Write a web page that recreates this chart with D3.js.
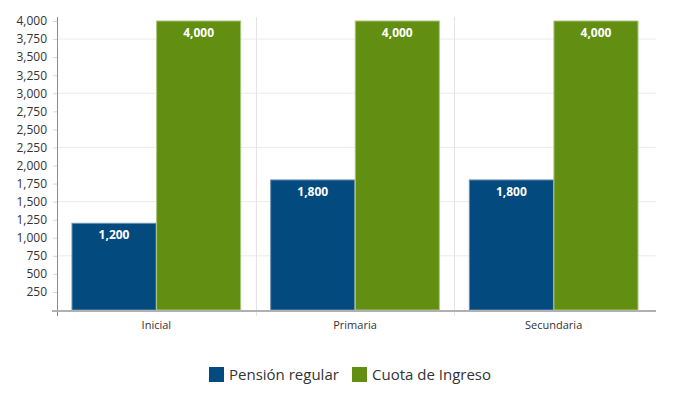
<!DOCTYPE html>
<html>
<head>
<meta charset="utf-8">
<script src="https://cdn.jsdelivr.net/npm/d3@7"></script>
<style>
  body { margin: 0; background: #fff; }
  text { font-family: "Open Sans", sans-serif; }
</style>
</head>
<body>
<div id="chart"></div>
<script>
var categories = ["Inicial", "Primaria", "Secundaria"];
var seriesNames = ["Pensión regular", "Cuota de Ingreso"];
var pension = [1200, 1800, 1800];
var cuota = [4000, 4000, 4000];
var yTicks = [250, 500, 750, 1000, 1250, 1500, 1750, 2000, 2250, 2500, 2750, 3000, 3250, 3500, 3750, 4000];
var gridTicks = [750, 1500, 2250, 3000, 3750];
var colors = ["#034a7e", "#628f12"];
var strokes = ["#6a8fb0", "#a9c77a"];

var margin = {top: 21, right: 44, bottom: 90, left: 57},
    width = 700 - margin.left - margin.right,
    height = 400 - margin.top - margin.bottom;

var svg = d3.select("#chart").append("svg")
    .attr("width", 700)
    .attr("height", 400)
  .append("g")
    .attr("transform", "translate(" + margin.left + "," + margin.top + ")");

var x = d3.scaleBand().domain(categories).range([0, width - 3]).paddingInner(0).paddingOuter(0);
var xs = d3.scaleBand().domain([0, 1]).range([15, x.bandwidth() - 15]).paddingInner(0.006);
var y = d3.scaleLinear().domain([0, 4000]).range([height, 0]);

// horizontal gridlines
svg.selectAll(".hgrid")
  .data(gridTicks)
  .enter().append("line")
    .attr("x1", 0).attr("x2", width)
    .attr("y1", function(d) { return y(d); })
    .attr("y2", function(d) { return y(d); })
    .attr("stroke", "#ebebeb").attr("stroke-width", 1);

// vertical category lines
svg.selectAll(".vgrid")
  .data(categories.slice(1))
  .enter().append("line")
    .attr("x1", function(d) { return Math.round(x(d)) + 0.5; })
    .attr("x2", function(d) { return Math.round(x(d)) + 0.5; })
    .attr("y1", -4).attr("y2", height + 6)
    .attr("stroke", "#e4e4e4");

// y axis
var yAxis = svg.append("g")
    .call(d3.axisLeft(y).tickValues(yTicks).tickFormat(d3.format(",")).tickSize(4).tickPadding(6));
yAxis.select(".domain").remove();
yAxis.selectAll(".tick line").attr("stroke", "#d6d6d6");
yAxis.selectAll("text").attr("fill", "#333").style("font-size", "12px");
svg.append("line")
    .attr("x1", 0.5).attr("x2", 0.5)
    .attr("y1", -4).attr("y2", height + 6)
    .attr("stroke", "#8c8c8c");

// bars
var series = [pension, cuota];
series.forEach(function(vals, si) {
  svg.selectAll(".bar" + si)
    .data(categories)
    .enter().append("rect")
      .attr("x", function(d) { return x(d) + xs(si); })
      .attr("width", xs.bandwidth())
      .attr("y", function(d, i) { return y(vals[i]); })
      .attr("height", function(d, i) { return height - y(vals[i]); })
      .attr("fill", colors[si])
      .attr("stroke", strokes[si])
      .attr("stroke-width", 1);

  svg.selectAll(".lbl" + si)
    .data(categories)
    .enter().append("text")
      .attr("x", function(d) { return x(d) + xs(si) + xs.bandwidth() / 2; })
      .attr("y", function(d, i) { return y(vals[i]) + 16; })
      .attr("text-anchor", "middle")
      .attr("fill", "#fff")
      .style("font-size", "12px")
      .style("font-weight", "bold")
      .text(function(d, i) { return d3.format(",")(vals[i]); });
});

// x axis
svg.append("line")
    .attr("x1", -5).attr("x2", width)
    .attr("y1", height + 1).attr("y2", height + 1)
    .attr("stroke", "#b0b0b0").attr("stroke-width", 2);

svg.selectAll(".xlbl")
  .data(categories)
  .enter().append("text")
    .attr("x", function(d) { return x(d) + x.bandwidth() / 2; })
    .attr("y", height + 19)
    .attr("text-anchor", "middle")
    .attr("fill", "#333")
    .style("font-size", "11px")
    .text(function(d) { return d; });

// legend
var legend = d3.select("svg").append("g").attr("transform", "translate(209,367)");
var lx = [0, 143];
seriesNames.forEach(function(name, i) {
  legend.append("rect")
    .attr("x", lx[i]).attr("y", 0)
    .attr("width", 15).attr("height", 15)
    .attr("fill", colors[i]);
  legend.append("text")
    .attr("x", lx[i] + 20).attr("y", 13)
    .attr("fill", "#333")
    .style("font-size", "15px")
    .text(name);
});
</script>
</body>
</html>
